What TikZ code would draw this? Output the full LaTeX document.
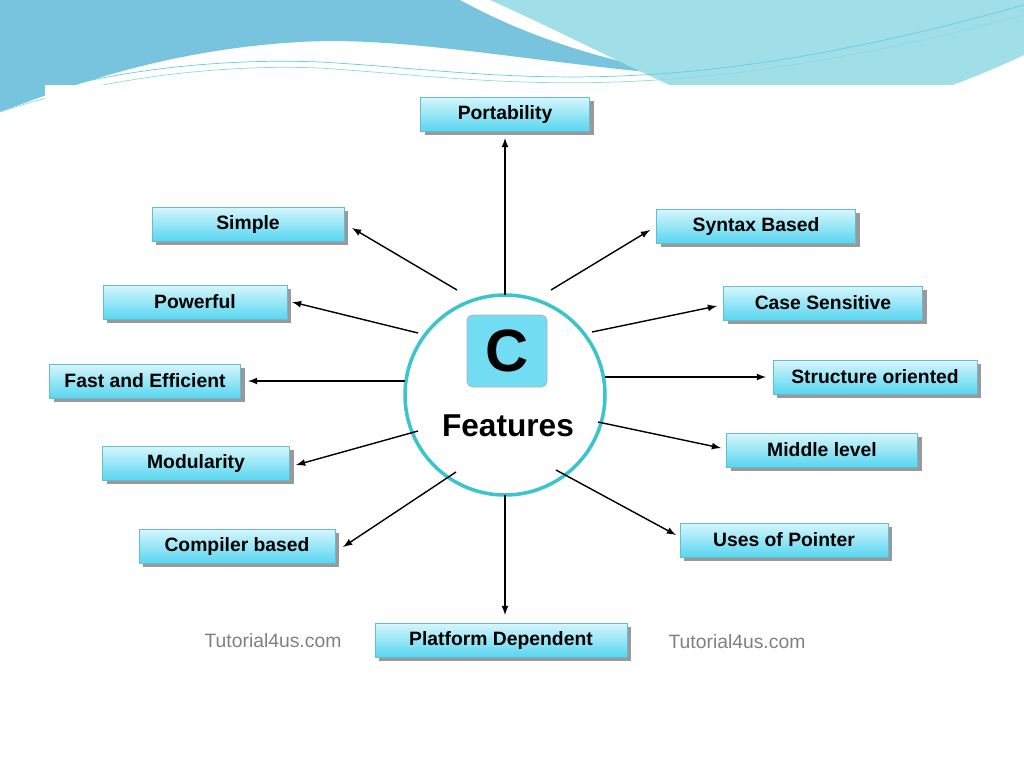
\documentclass[tikz,border=0pt]{standalone}
\usepackage{fontspec}
\setmainfont{Liberation Sans}
\usetikzlibrary{positioning,shadows}
\definecolor{boxcyan}{RGB}{88,214,240}
\definecolor{boxlight}{RGB}{215,246,252}
\definecolor{ringcyan}{RGB}{60,196,205}
\definecolor{waveblue}{RGB}{120,196,222}
\definecolor{wavecyan}{RGB}{160,222,232}
\tikzset{
  feat/.style={rectangle, minimum height=34*0.02cm, inner sep=0pt,
    top color=boxlight, bottom color=boxcyan, draw=boxcyan!70!gray, line width=0.3pt,
    font=\bfseries\fontsize{11}{13}\selectfont,
    drop shadow={shadow xshift=2.5pt, shadow yshift=-2.5pt, fill=gray!80, opacity=1}},
  arr/.style={-latex, thick},
  mark4us/.style={text=gray, font=\fontsize{11}{13}\selectfont}
}
\begin{document}
\begin{tikzpicture}[x=0.02cm, y=-0.02cm]
\useasboundingbox (0,0) rectangle (1024,768);
% header wave
\fill[waveblue] (0,0) -- (460,0) .. controls (560,55) and (680,80) .. (770,82)
  .. controls (560,70) and (420,35) .. (300,42) .. controls (160,50) and (60,90) .. (0,112) -- cycle;
\fill[wavecyan] (490,0) -- (1024,0) -- (1024,55) .. controls (950,90) and (850,125) .. (760,122)
  .. controls (680,95) and (580,40) .. (490,0) -- cycle;
\draw[ringcyan!80, thin] (0,105) .. controls (100,70) and (220,58) .. (320,62) .. controls (500,72) and (650,110) .. (1024,5);
\draw[ringcyan!60, thin] (0,112) .. controls (100,78) and (220,64) .. (320,68) .. controls (500,80) and (660,112) .. (1024,15);
\fill[white] (45,85) rectangle (985,672);
% centre
\node[circle, draw=ringcyan, line width=2pt, fill=white, minimum size=200*0.02cm] (c) at (505,395) {};
\node[rectangle, rounded corners=3pt, fill=boxcyan!85, draw=gray!60, minimum width=80*0.02cm, minimum height=72*0.02cm,
  font=\bfseries\fontsize{34}{36}\selectfont] (clang) at (507,351) {C};
\node[font=\bfseries\fontsize{18}{22}\selectfont] (ftr) at (508,426) {Features};
% features
\node[feat, minimum width=169*0.02cm] (port) at (505,114) {Portability};
\node[feat, minimum width=192*0.02cm] (simple) at (248,224) {Simple};
\node[feat, minimum width=199*0.02cm] (syntax) at (756,226) {Syntax Based};
\node[feat, minimum width=184*0.02cm] (power) at (195,302) {Powerful};
\node[feat, minimum width=199*0.02cm] (case) at (823,303) {Case Sensitive};
\node[feat, minimum width=191*0.02cm] (fast) at (145,381) {Fast and Efficient};
\node[feat, minimum width=204*0.02cm] (struct) at (875,377) {Structure oriented};
\node[feat, minimum width=187*0.02cm] (modul) at (196,463) {Modularity};
\node[feat, minimum width=191*0.02cm] (middle) at (822,450) {Middle level};
\node[feat, minimum width=196*0.02cm] (comp) at (237,546) {Compiler based};
\node[feat, minimum width=208*0.02cm] (ptr) at (784,540) {Uses of Pointer};
\node[feat, minimum width=252*0.02cm] (plat) at (501,640) {Platform Dependent};
\node[mark4us] (wm1) at (273,641) {Tutorial4us.com};
\node[mark4us] (wm2) at (737,642) {Tutorial4us.com};
% arrow starts on the ring
\coordinate (sport) at (505,295);
\coordinate (ssimple) at (457,290);
\coordinate (ssyntax) at (551,290);
\coordinate (spower) at (418,333);
\coordinate (scase) at (592,332);
\coordinate (sfast) at (405,381);
\coordinate (sstruct) at (605,377);
\coordinate (smodul) at (418,431);
\coordinate (smiddle) at (598,422);
\coordinate (scomp) at (456,472);
\coordinate (sptr) at (556,470);
\coordinate (splat) at (505,495);
% arrow tips
\coordinate (tport) at (505,138);
\coordinate (tsimple) at (352,228);
\coordinate (tsyntax) at (650,230);
\coordinate (tpower) at (292,302);
\coordinate (tcase) at (717,306);
\coordinate (tfast) at (248,381);
\coordinate (tstruct) at (766,377);
\coordinate (tmodul) at (296,465);
\coordinate (tmiddle) at (721,448);
\coordinate (tcomp) at (343,547);
\coordinate (tptr) at (676,535);
\coordinate (tplat) at (505,615);
% arrows
\foreach \b in {port,simple,syntax,power,case,fast,struct,modul,middle,comp,ptr,plat}
  \draw[arr] (s\b) -- (t\b);
\end{tikzpicture}
\end{document}
